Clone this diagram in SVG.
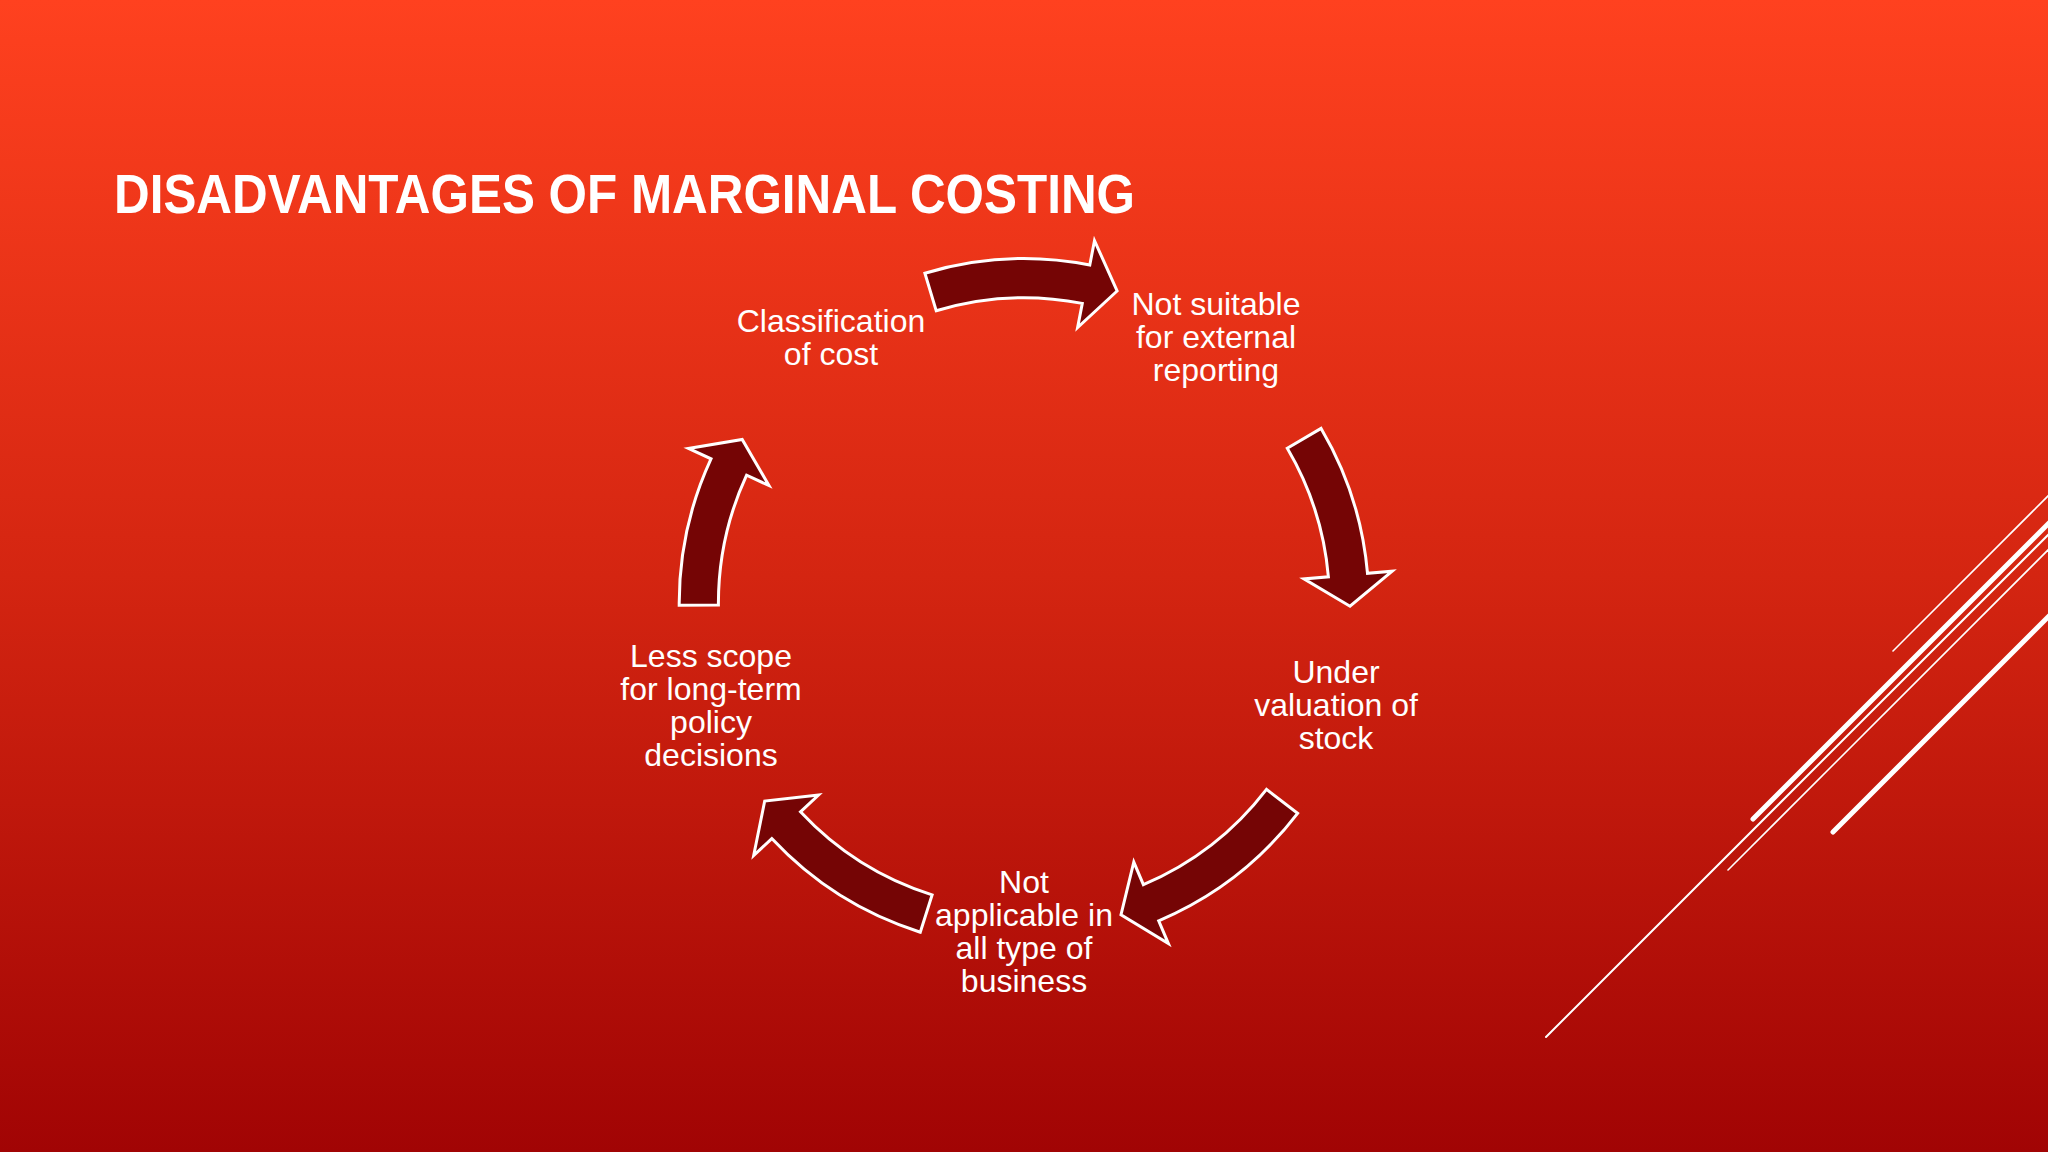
<svg xmlns="http://www.w3.org/2000/svg" width="2048" height="1152" viewBox="0 0 2048 1152">
<defs>
<linearGradient id="bg" x1="0" y1="0" x2="0" y2="1">
<stop offset="0" stop-color="#FF411F"/>
<stop offset="0.5" stop-color="#D42511"/>
<stop offset="1" stop-color="#A10404"/>
</linearGradient>
<style>
.arrow{fill:#750505;stroke:#FFFFFF;stroke-width:3;stroke-linejoin:miter}
.lbl{font-family:"Liberation Sans",Arial,sans-serif;font-size:32px;fill:#FFFFFF;text-anchor:middle}
.title{font-family:"Liberation Sans",Arial,sans-serif;font-size:56px;font-weight:bold;fill:#FFFFFF}
.deco{stroke:#FFFFFF;fill:none;stroke-linecap:round}
</style>
</defs>
<rect x="0" y="0" width="2048" height="1152" fill="url(#bg)"/>
<g id="decoration">
<line class="deco" x1="1546" y1="1037" x2="2062" y2="521" stroke-width="2"/>
<line class="deco" x1="1753" y1="819" x2="2062" y2="510" stroke-width="5"/>
<line class="deco" x1="1728" y1="870" x2="2062" y2="536" stroke-width="1.6"/>
<line class="deco" x1="1893" y1="651" x2="2062" y2="482" stroke-width="1.6"/>
<line class="deco" x1="1833" y1="832" x2="2062" y2="603" stroke-width="5"/>
</g>
<text id="title" class="title" x="114" y="213" textLength="1021" lengthAdjust="spacingAndGlyphs">DISADVANTAGES OF MARGINAL COSTING</text>
<g id="connectors">
<path class="arrow" d="M924.9,273.2 A344.8,344.8 0 0 1 1089.8,265.0 L1094.5,240.6 L1117.1,291.0 L1077.6,327.6 L1082.3,303.4 A305.6,305.6 0 0 0 936.2,310.7 Z"/>
<path class="arrow" d="M1321.1,428.4 A344.8,344.8 0 0 1 1367.5,573.3 L1392.2,571.2 L1350.0,606.2 L1303.9,578.9 L1328.4,576.8 A305.6,305.6 0 0 0 1287.3,448.3 Z"/>
<path class="arrow" d="M1297.6,813.3 A344.8,344.8 0 0 1 1158.7,920.8 L1168.4,943.6 L1121.0,914.7 L1133.8,862.1 L1143.4,884.7 A305.6,305.6 0 0 0 1266.5,789.4 Z"/>
<path class="arrow" d="M920.3,932.2 A344.8,344.8 0 0 1 771.8,838.6 L753.7,855.5 L764.7,801.0 L818.5,795.0 L800.5,811.8 A305.6,305.6 0 0 0 932.1,894.9 Z"/>
<path class="arrow" d="M679.2,605.2 A344.8,344.8 0 0 1 711.0,458.8 L688.5,448.4 L742.2,439.4 L768.9,485.5 L746.6,475.2 A305.6,305.6 0 0 0 718.4,605.0 Z"/>
</g>
<g id="node-classification">
<text class="lbl" x="831" y="332">Classification</text>
<text class="lbl" x="831" y="365">of cost</text>
</g>
<g id="node-not-suitable">
<text class="lbl" x="1216" y="315">Not suitable</text>
<text class="lbl" x="1216" y="348">for external</text>
<text class="lbl" x="1216" y="381">reporting</text>
</g>
<g id="node-under-valuation">
<text class="lbl" x="1336" y="683">Under</text>
<text class="lbl" x="1336" y="716">valuation of</text>
<text class="lbl" x="1336" y="749">stock</text>
</g>
<g id="node-not-applicable">
<text class="lbl" x="1024" y="893">Not</text>
<text class="lbl" x="1024" y="926">applicable in</text>
<text class="lbl" x="1024" y="959">all type of</text>
<text class="lbl" x="1024" y="992">business</text>
</g>
<g id="node-less-scope">
<text class="lbl" x="711" y="667">Less scope</text>
<text class="lbl" x="711" y="700">for long-term</text>
<text class="lbl" x="711" y="733">policy</text>
<text class="lbl" x="711" y="766">decisions</text>
</g>
</svg>
